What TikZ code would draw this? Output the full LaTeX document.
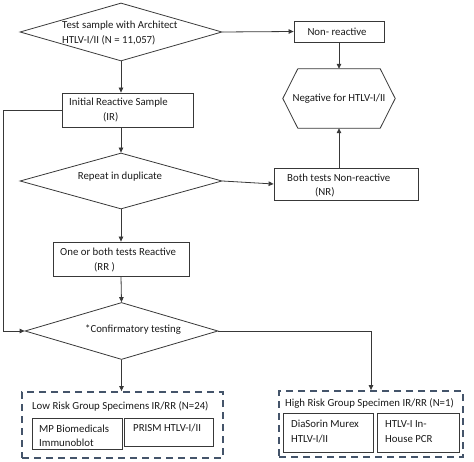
\documentclass[tikz,border=0pt]{standalone}
\usepackage{fontspec}
\setmainfont{Carlito}
\usetikzlibrary{shapes.geometric,arrows.meta,calc}
\definecolor{ln}{HTML}{383838}
\definecolor{tx}{HTML}{1A1A1A}
\definecolor{dsh}{HTML}{44546A}
\begin{document}
\begin{tikzpicture}[x=1pt,y=-1pt,
 every node/.style={inner sep=0pt},
 line/.style={draw=ln, line width=0.8pt},
 arr/.style={line, -{Triangle[length=5pt,width=4.5pt]}},
 box/.style={draw=ln, line width=0.8pt, rectangle, inner sep=0pt},
 dia/.style={draw=ln, line width=0.8pt, diamond, inner sep=0pt},
 dbox/.style={draw=dsh, line width=1.8pt, dash pattern=on 7pt off 5pt, rectangle},
 txt/.style={text=tx, font=\fontsize{10.8}{14.5}\selectfont, align=left, anchor=west}]
\useasboundingbox (0,0) rectangle (474,462);
% shapes
\node[dia, minimum width=202pt, minimum height=58pt] (d1) at (121,32) {};
\node[txt] (t1) at (62,33) {Test sample with Architect\\HTLV-I/II (N = 11,057)};
\node[box, minimum width=90pt, minimum height=21pt] (nr) at (339,31.5) {};
\node[txt, anchor=center] (t2) at (337,31.5) {Non- reactive};
\node[minimum width=112pt, minimum height=59pt, text=tx, font=\fontsize{10.8}{14.5}\selectfont] (hex) at (339,98.5) {Negative for HTLV-I/II};
\draw[line] (hex.west) -- ([xshift=15pt]hex.north west) -- ([xshift=-15pt]hex.north east) -- (hex.east) -- ([xshift=-15pt]hex.south east) -- ([xshift=15pt]hex.south west) -- cycle;
\node[box, minimum width=131pt, minimum height=34pt] (ir) at (127.5,110) {};
\node[txt] (t4) at (69,110) {Initial Reactive Sample\\\hspace*{34pt}(IR)};
\node[dia, minimum width=202pt, minimum height=56pt] (d2) at (121,181) {};
\node[txt, anchor=center] (t5) at (120,177) {Repeat in duplicate};
\node[box, minimum width=144pt, minimum height=32pt] (bnr) at (346,184) {};
\node[txt] (t6) at (287,185.5) {Both tests Non-reactive\\\hspace*{28pt}(NR)};
\node[box, minimum width=136pt, minimum height=34pt] (rr) at (121,259) {};
\node[txt] (t7) at (60,260) {One or both tests Reactive\\\hspace*{34pt}(RR )};
\node[dia, minimum width=193pt, minimum height=57pt] (d3) at (121.5,331) {};
\node[txt, anchor=center] (t8) at (133,330) {*Confirmatory testing};
\node[dbox, minimum width=201pt, minimum height=66pt] (lr) at (122.5,425) {};
\node[txt] (t9) at (32,406) {Low Risk Group Specimens IR/RR (N=24)};
\node[box, minimum width=90pt, minimum height=31pt] (mp) at (77,433.5) {};
\node[txt] (t10) at (39,436) {MP Biomedicals\\Immunoblot};
\node[box, minimum width=89pt, minimum height=28pt] (pr) at (168.5,432) {};
\node[txt] (t11) at (133,428) {PRISM HTLV-I/II};
\node[dbox, minimum width=184pt, minimum height=66pt] (hr) at (371,424) {};
\node[txt] (t12) at (285,403) {High Risk Group Specimen IR/RR (N=1)};
\node[box, minimum width=90pt, minimum height=39pt] (ds) at (328,432.5) {};
\node[txt] (t13) at (291,431.5) {DiaSorin Murex\\HTLV-I/II};
\node[box, minimum width=82pt, minimum height=39pt] (pcr) at (418,432.5) {};
\node[txt] (t14) at (385,431.5) {HTLV-I In-\\House PCR};
% connectors
\coordinate (lc) at (3,331);
\draw[arr] (d1.east) -- (nr.west);
\draw[arr] (nr.south) -- (hex.north);
\draw[arr] (d1.south) -- (d1.south |- ir.north);
\draw[arr] (ir.west) -| (lc) -- (d3.west);
\draw[arr] (d2.north |- ir.south) -- (d2.north);
\draw[arr] (d2.east) -- (bnr.west);
\draw[arr] (hex.south |- bnr.north) -- (hex.south);
\draw[arr] (d2.south) -- (rr.north);
\draw[arr] (rr.south) -- (d3.north);
\draw[arr] (d3.east) -| (hr.north);
\draw[arr] (d3.south) -- (d3.south |- lr.north);
\end{tikzpicture}
\end{document}
